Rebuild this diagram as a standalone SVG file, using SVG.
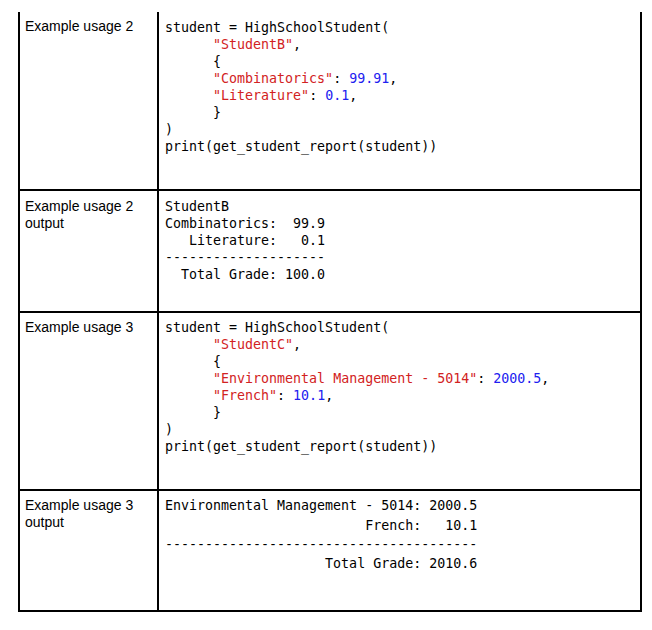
<svg xmlns="http://www.w3.org/2000/svg" width="652" height="630" viewBox="0 0 652 630">
<style>
.l{font-family:"Liberation Sans",Arial,sans-serif;font-size:14px;fill:#000}
.c{font-family:"DejaVu Sans Mono","Liberation Mono",monospace;font-size:13.3px;fill:#000;white-space:pre}
.s{fill:#d22222}.n{fill:#2020f0}
.g line{stroke:#000;stroke-width:2}
</style>
<rect width="652" height="630" fill="#fff"/>
<g class="g" id="grid">
<line x1="19" y1="12" x2="19" y2="612"/>
<line x1="158" y1="12" x2="158" y2="612"/>
<line x1="641" y1="12" x2="641" y2="612"/>
<line x1="18" y1="190" x2="642" y2="190"/>
<line x1="18" y1="312" x2="642" y2="312"/>
<line x1="18" y1="490" x2="642" y2="490"/>
<line x1="18" y1="611" x2="642" y2="611"/>
</g>
<g id="row1">
<text class="l" x="25" y="31">Example usage 2</text>
<text class="c" xml:space="preserve"><tspan x="165" y="32">student = HighSchoolStudent(</tspan><tspan x="165" y="49">      <tspan class="s">"StudentB"</tspan>,</tspan><tspan x="165" y="66">      {</tspan><tspan x="165" y="83">      <tspan class="s">"Combinatorics"</tspan>: <tspan class="n">99.91</tspan>,</tspan><tspan x="165" y="100">      <tspan class="s">"Literature"</tspan>: <tspan class="n">0.1</tspan>,</tspan><tspan x="165" y="117">      }</tspan><tspan x="165" y="134">)</tspan><tspan x="165" y="151">print(get_student_report(student))</tspan></text>
</g>
<g id="row2">
<text class="l"><tspan x="25" y="211">Example usage 2</tspan><tspan x="25" y="228">output</tspan></text>
<text class="c" xml:space="preserve"><tspan x="165" y="211">StudentB</tspan><tspan x="165" y="228">Combinatorics:  99.9</tspan><tspan x="165" y="245">   Literature:   0.1</tspan><tspan x="165" y="262">--------------------</tspan><tspan x="165" y="279">  Total Grade: 100.0</tspan></text>
</g>
<g id="row3">
<text class="l" x="25" y="332">Example usage 3</text>
<text class="c" xml:space="preserve"><tspan x="165" y="332">student = HighSchoolStudent(</tspan><tspan x="165" y="349">      <tspan class="s">"StudentC"</tspan>,</tspan><tspan x="165" y="366">      {</tspan><tspan x="165" y="383">      <tspan class="s">"Environmental Management - 5014"</tspan>: <tspan class="n">2000.5</tspan>,</tspan><tspan x="165" y="400">      <tspan class="s">"French"</tspan>: <tspan class="n">10.1</tspan>,</tspan><tspan x="165" y="417">      }</tspan><tspan x="165" y="434">)</tspan><tspan x="165" y="451">print(get_student_report(student))</tspan></text>
</g>
<g id="row4">
<text class="l"><tspan x="25" y="510">Example usage 3</tspan><tspan x="25" y="527">output</tspan></text>
<text class="c" xml:space="preserve"><tspan x="165" y="510">Environmental Management - 5014: 2000.5</tspan><tspan x="165" y="530">                         French:   10.1</tspan><tspan x="165" y="549">---------------------------------------</tspan><tspan x="165" y="568">                    Total Grade: 2010.6</tspan></text>
</g>
</svg>
